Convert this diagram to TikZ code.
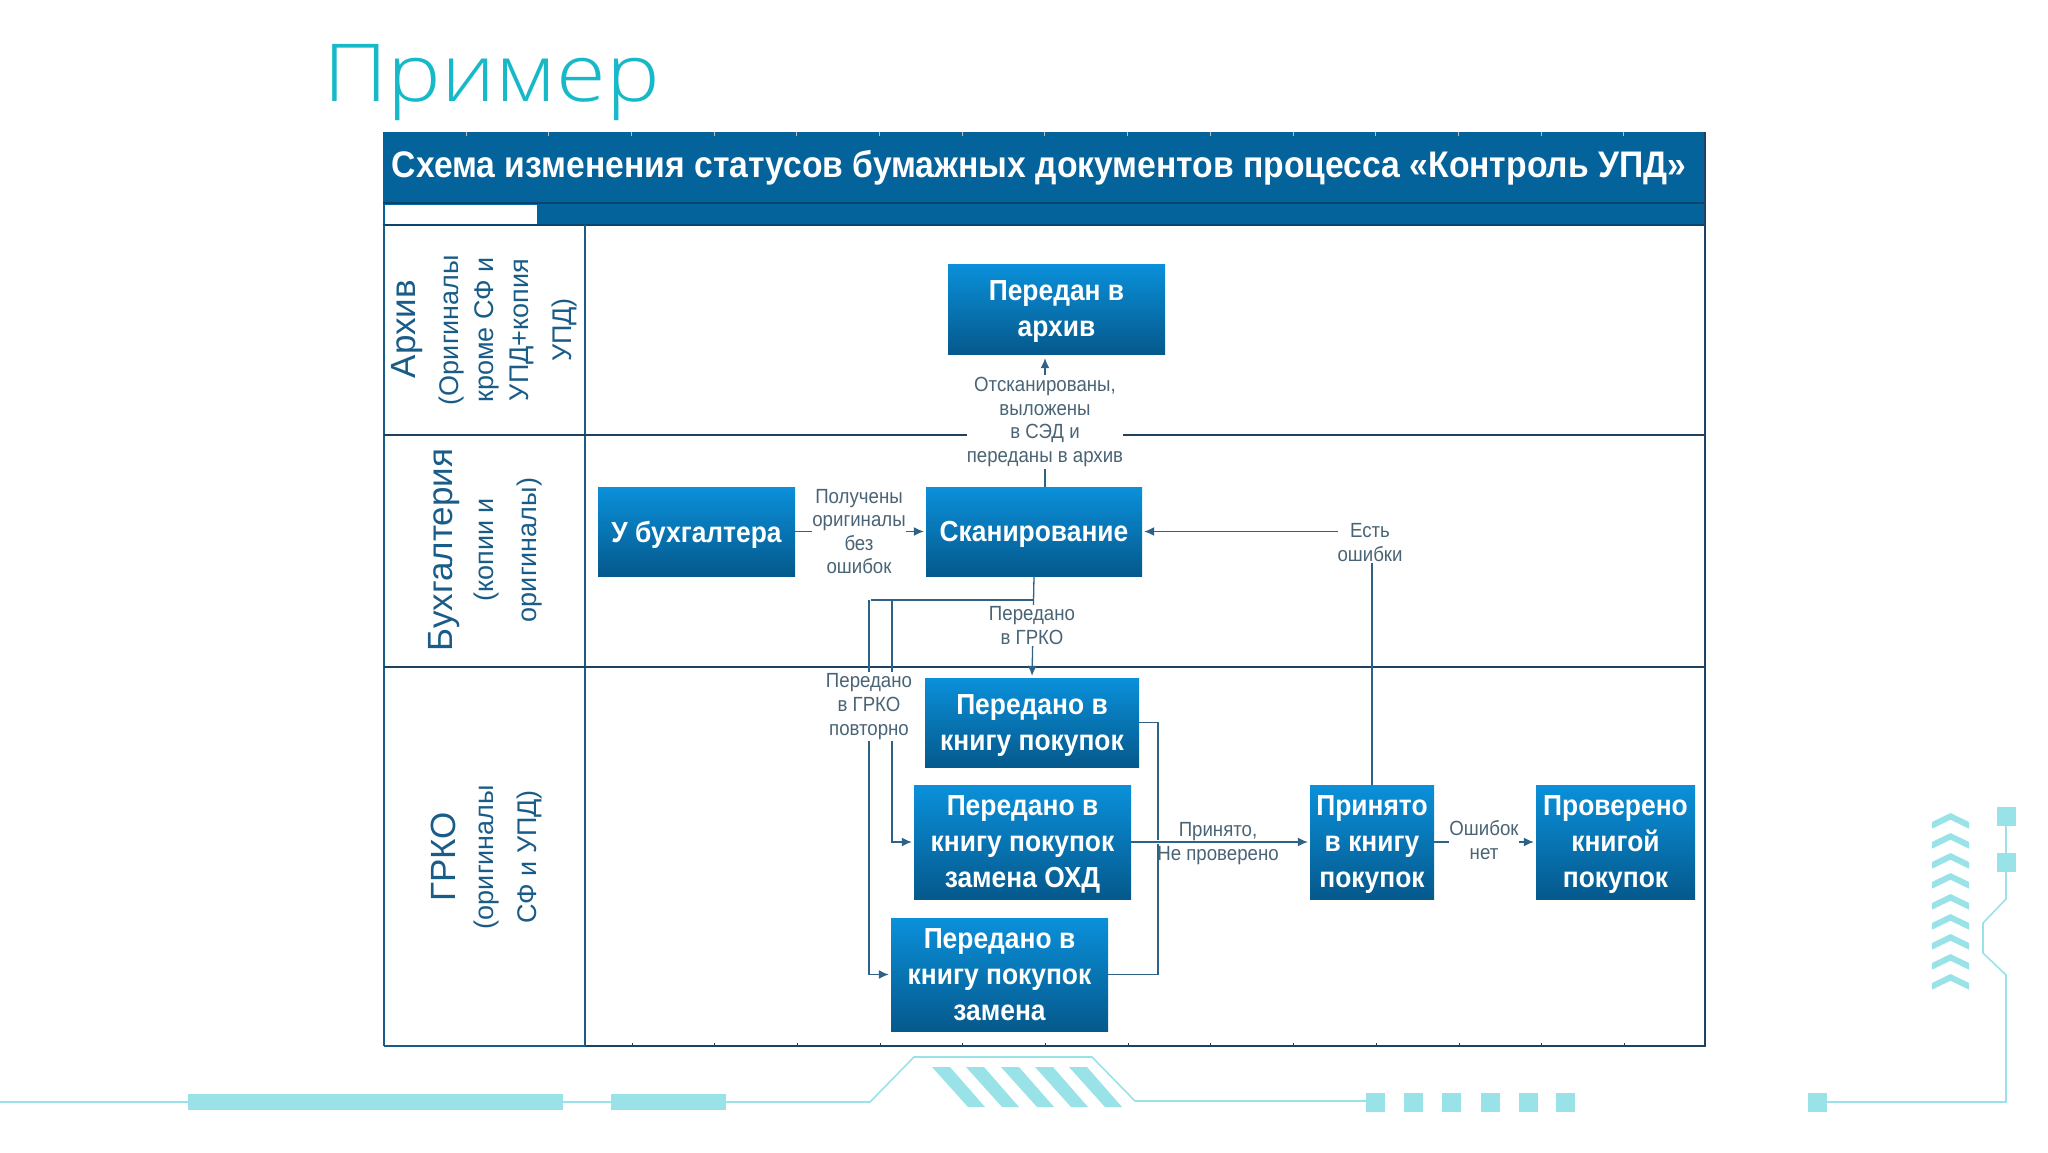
\documentclass[tikz,border=0pt]{standalone}
\usepackage{fontspec}
\usetikzlibrary{arrows.meta}
\setmainfont{Liberation Sans}
\newfontfamily\slidefont[FakeStretch=1.13]{Open Sans Light}
\newfontfamily\narrowfont[FakeStretch=0.91]{Liberation Sans}
\definecolor{bandblue}{HTML}{05639B}
\definecolor{banddark}{HTML}{0B456E}
\definecolor{rowline}{HTML}{1F4260}
\definecolor{colline}{HTML}{1A5C88}
\definecolor{linkblue}{HTML}{2F6287}
\definecolor{labelgrey}{HTML}{4A6475}
\definecolor{boxtop}{HTML}{0A90DA}
\definecolor{boxbottom}{HTML}{05598C}
\definecolor{decor}{HTML}{99E3E8}
\definecolor{slideteal}{HTML}{17B9C9}
\tikzset{
	statbox/.style={rectangle,top color=boxtop,bottom color=boxbottom,text=white,align=center,inner sep=0pt,text depth=0pt,
		font=\narrowfont\bfseries\fontsize{29}{36}\selectfont},
	linklabel/.style={fill=white,inner xsep=0pt,inner ysep=2pt,align=center,text=labelgrey,
		font=\narrowfont\fontsize{20.5}{23.6}\selectfont},
	link/.style={draw=linkblue,line width=1.3pt,>={Latex[length=10pt,width=9pt]},shorten >=2pt},
	rowhead/.style={rotate=90,text=colline,align=center,font=\fontsize{35}{36}\selectfont},
	rowsub/.style={rotate=90,text=colline,align=center,font=\fontsize{27}{35}\selectfont},
	decorline/.style={draw=decor,line width=1.6pt}
}
\begin{document}
\begin{tikzpicture}[x=1pt,y=-1pt]
	\useasboundingbox (0,0) rectangle (2048,1152);

	\node[anchor=base west,inner sep=0pt,text=slideteal,font=\slidefont\fontsize{80}{80}\selectfont] (slidetitle) at (323,101) {Пример};

	% header
	\fill[bandblue] (383,132) rectangle (1705,225);
	\fill[white] (385,205) rectangle (537,224);
	\draw[banddark,line width=1.5pt] (383,203) -- (1705,203);
	\draw[banddark,line width=1.5pt] (383,225) -- (1705,225);
	\node[text=white,font=\narrowfont\bfseries\fontsize{37}{37}\selectfont,inner sep=0pt] (schemetitle) at (1039,168) {Схема изменения статусов бумажных документов процесса «Контроль УПД»};

	% frame
	\draw[colline,line width=2pt] (384,225) -- (384,1046);
	\draw[rowline,line width=2.5pt] (1705,132) -- (1705,1046) -- (585,1046);
	\draw[colline,line width=2pt] (585,1046) -- (384,1046);
	\draw[colline,line width=2pt] (585,225) -- (585,1046);
	\draw[rowline,line width=2.5pt] (384,435) -- (1705,435);
	\draw[rowline,line width=2.5pt] (384,667) -- (1705,667);
	\foreach \i in {0,...,14} \draw[gray!50,line width=1pt] (466+82.7*\i,132) -- +(0,4);
	\foreach \i in {0,...,12} \draw[rowline,line width=1pt] (632+82.7*\i,1046) -- +(0,-3);

	% rows
	\node[rowhead] (rowarch) at (407,329) {Архив};
	\node[rowsub] (rowarchsub) at (508,330) {(Оригиналы\\кроме СФ и\\УПД+копия\\[8pt]УПД)};
	\node[rowhead] (rowbuh) at (444,550) {Бухгалтерия};
	\node[rowsub] (rowbuhsub) at (508,550) {(копии и\\[8pt]оригиналы)};
	\node[rowhead] (rowgrko) at (443,857) {ГРКО};
	\node[rowsub] (rowgrkosub) at (508,857) {(оригиналы\\[8pt]СФ и УПД)};

	% states
	\node[statbox,minimum width=217pt,minimum height=90pt] (arch) at (1056.5,309) {Передан в\\архив};
	\node[statbox,minimum width=197pt,minimum height=89pt] (buh) at (696.5,531.5) {У бухгалтера};
	\node[statbox,minimum width=216pt,minimum height=89pt] (scan) at (1034,531.5) {Сканирование};
	\node[statbox,minimum width=214pt,minimum height=89pt] (book) at (1032,722.5) {Передано в\\книгу покупок};
	\node[statbox,minimum width=217pt,minimum height=114pt] (ohd) at (1022.5,842) {Передано в\\книгу покупок\\замена ОХД};
	\node[statbox,minimum width=217pt,minimum height=113pt] (zam) at (999.5,974.5) {Передано в\\книгу покупок\\замена};
	\node[statbox,minimum width=124pt,minimum height=114pt] (prin) at (1372,842) {Принято\\в книгу\\покупок};
	\node[statbox,minimum width=159pt,minimum height=114pt] (prov) at (1615.5,842) {Проверено\\книгой\\покупок};

	\coordinate (fork) at (scan.south |- 0,600);
	\coordinate (forkA) at (892,600);
	\coordinate (forkB) at (869,600);
	\coordinate (merge) at (1158,842);
	\coordinate (archup) at (1045,487);

	% links
	\draw[link,->,shorten >=4pt] (archup) -- (archup |- arch.south);
	\draw[link,->] (buh) -- (scan);
	\draw[link,->] (prin.north) |- (scan.east);
	\draw[link,->] (scan.south) -- (book.north);
	\draw[link] (fork) -- (forkB);
	\draw[link,->] (forkA) |- (ohd.west);
	\draw[link,->] (forkB) |- (zam.west);
	\draw[link] (book.east) -| (merge);
	\draw[link] (zam.east) -| (merge);
	\draw[link,->] (ohd) -- (prin);
	\draw[link,->] (prin) -- (prov);

	% labels
	\node[linklabel] (lblarch) at (1045,422) {Отсканированы,\\выложены\\в СЭД и\\переданы в архив};
	\node[linklabel] (lblbuh) at (859,531.5) {Получены\\оригиналы\\без\\ошибок};
	\node[linklabel] (lblerr) at (1370,542.5) {Есть\\ошибки};
	\node[linklabel] (lblgrko) at (1032,625.5) {Передано\\в ГРКО};
	\node[linklabel] (lblrep) at (869,706.5) {Передано\\в ГРКО\\повторно};
	\node[linklabel,fill=none] (lblacc) at (1218,843.5) {Принято,\\Не проверено};
	\node[linklabel] (lblok) at (1484,840) {Ошибок\\нет};

	% slide decoration
	\draw[decorline] (0,1102) -- (870,1102) -- (914,1057) -- (1092,1057) -- (1135,1101) -- (1366,1101);
	\fill[decor] (188,1094) rectangle (563,1110);
	\fill[decor] (611,1094) rectangle (726,1110);
	\foreach \x in {932,966,1001,1035,1069}
		\fill[decor] (\x,1067) -- ++(18,0) -- ++(35,40) -- ++(-17,0) -- cycle;
	\foreach \x in {1366,1404,1442,1481,1519,1556}
		\fill[decor] (\x,1093) rectangle ++(19,19);
	\fill[decor] (1808,1093) rectangle ++(19,19);
	\draw[decorline] (1827,1102) -- (2006,1102) -- (2006,975) -- (1983,953) -- (1983,923) -- (2006,899) -- (2006,826);
	\fill[decor] (1997,807) rectangle ++(19,19);
	\fill[decor] (1997,853) rectangle ++(19,19);
	\foreach \y in {813,833,853,873,894,914,934,954,974}
		\fill[decor] (1932,\y+9) -- (1950.5,\y) -- (1969,\y+9) -- (1969,\y+15.7) -- (1950.5,\y+6.7) -- (1932,\y+15.7) -- cycle;
\end{tikzpicture}
\end{document}
